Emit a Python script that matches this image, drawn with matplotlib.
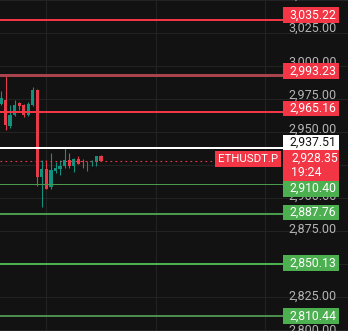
import matplotlib
matplotlib.use("Agg")
import matplotlib.pyplot as plt
from matplotlib.patches import Rectangle

# === data ===
opens = [2970.9, 2974.6, 2954.5, 2962.7, 2971.6, 2970.1, 2962.7, 2970.1, 2982.1, 2915.7, 2921.6, 2908.2,
         2920.1, 2921.6, 2923.9, 2929.1, 2923.9, 2929.9, 2928.4, 2926.9, 2927.0, 2926.9, 2932.1]
highs = [2981.3, 2992.5, 2970.1, 2974.6, 2973.1, 2970.9, 2973.1, 2984.3, 2982.8, 2929.1, 2929.1, 2934.3,
         2926.9, 2929.1, 2938.1, 2934.3, 2930.6, 2932.1, 2929.9, 2928.4, 2929.1, 2932.1, 2932.8]
lows = [2970.1, 2951.5, 2953.0, 2961.9, 2966.4, 2961.2, 2961.9, 2969.8, 2909.0, 2893.3, 2906.5, 2906.5,
        2918.7, 2917.2, 2923.1, 2922.4, 2919.4, 2925.4, 2922.4, 2920.1, 2923.9, 2923.9, 2928.0]
closes = [2975.4, 2955.2, 2962.7, 2970.1, 2969.4, 2962.7, 2970.9, 2982.1, 2915.7, 2921.6, 2906.7, 2920.9,
          2922.4, 2924.6, 2929.1, 2923.9, 2929.9, 2926.1, 2926.9, 2927.6, 2928.0, 2932.1, 2928.35]

resistance = [3035.22, 2993.23, 2965.16]
support = [2910.40, 2887.76, 2850.13, 2810.44]
marker_level = 2937.51
last_price = 2928.35
countdown = "19:24"
symbol = "ETHUSDT.P"
price_ticks = [3050, 3025, 3000, 2975, 2950, 2925, 2900, 2875, 2850, 2825, 2800]

# === style ===
W, H = 348, 331
BG = "#121212"
GRID = "#232323"
UP = "#12917f"
DOWN = "#e83a48"
RED = "#f23645"
GREEN = "#4caf50"
res_colors = ["#f23645", "#a9444d", "#f23645"]
res_widths = [2.0, 3.0, 2.0]
sup_colors = ["#4a9a4e", "#4a9a4e", "#4caf50", "#4a8c4c"]
sup_widths = [1.0, 2.0, 2.0, 2.0]

plt.rcParams["font.family"] = ["Roboto", "DejaVu Sans"]

fig = plt.figure(figsize=(W / 100, H / 100), dpi=100, facecolor=BG)
ax = fig.add_axes([0, 0, 1, 1], facecolor=BG)

ymin, ymax = 2799.25, 3046.27
step = 4.545  # px per bar
ax.set_xlim(-1 / step, (W - 1) / step)
ax.set_ylim(ymin, ymax)


def py(p):
    # price -> pixel row from top
    return (ymax - p) / (ymax - ymin) * H


def fx(x):
    return x / W


def fy(y):
    return 1 - y / H


# grid
ax.set_yticks(price_ticks)
ax.set_xticks([10, 34, 58])
ax.grid(True, color=GRID, lw=0.8)
ax.tick_params(length=0, labelleft=False, labelbottom=False)
for s in ax.spines.values():
    s.set_visible(False)
ax.set_axisbelow(True)

# candles
for i in range(len(opens)):
    c = UP if closes[i] >= opens[i] else DOWN
    ax.vlines(i, lows[i], highs[i], color=c, lw=0.8, zorder=3)
    lo, hi = min(opens[i], closes[i]), max(opens[i], closes[i])
    ax.bar(i, max(hi - lo, 0.6), bottom=lo, width=0.7, color=c, lw=0, zorder=4)

line_end = 282 / W

# level lines
for lvl, c, w in zip(resistance, res_colors, res_widths):
    ax.axhline(lvl, xmin=0, xmax=line_end, color=c, lw=w * 0.72, zorder=5)
for lvl, c, w in zip(support, sup_colors, sup_widths):
    ax.axhline(lvl, xmin=0, xmax=line_end, color=c, lw=w * 0.72, zorder=5)
ax.axhline(marker_level, xmin=0, xmax=line_end, color="white", lw=2 * 0.72, zorder=5)
ax.axhline(last_price, xmin=0, xmax=215 / W, color=RED, lw=0.8, ls=(0, (1.5, 3)), zorder=5)

# price scale labels (drawn under the boxes)
for t in price_ticks:
    ax.text(fx(337), fy(py(t)), f"{t:,.2f}", transform=ax.transAxes, ha="right", va="center",
            fontsize=9, color="#b4b4b4", zorder=6, clip_on=False)

# label boxes, pushed apart like the price scale does
box_h = 15.5
cur_top = py(last_price) - 8
cur_bot = cur_top + 31
boxes = []
above = [(marker_level, "white", "#131313")] + [(l, RED, "white") for l in resistance]
above.sort(key=lambda b: -py(b[0]))  # nearest to current first
limit = cur_top
for lvl, bg, fg in above:
    top = min(py(lvl) - box_h / 2, limit - box_h)
    boxes.append((top, lvl, bg, fg))
    limit = top
below = sorted([(l, GREEN, "white") for l in support], key=lambda b: py(b[0]))
limit = cur_bot
for lvl, bg, fg in below:
    top = max(py(lvl) - box_h / 2, limit)
    boxes.append((top, lvl, bg, fg))
    limit = top + box_h


def box(x0, x1, top, bottom, color):
    ax.add_patch(Rectangle((fx(x0), fy(bottom)), fx(x1 - x0), (bottom - top) / H,
                           transform=ax.transAxes, facecolor=color, lw=0, zorder=8, clip_on=False))


for top, lvl, bg, fg in boxes:
    box(283, 339, top, top + box_h, bg)
    ax.text(fx(336), fy(top + box_h / 2), f"{lvl:,.2f}", transform=ax.transAxes, ha="right",
            va="center", fontsize=8.8, color=fg, zorder=9, clip_on=False)

# current price box with countdown
box(283, 339, cur_top, cur_bot, RED)
ax.text(fx(291), fy(cur_top + 8), f"{last_price:,.2f}", transform=ax.transAxes, ha="left",
        va="center", fontsize=8.8, color="white", zorder=9, clip_on=False)
ax.text(fx(291), fy(cur_top + 22), countdown, transform=ax.transAxes, ha="left",
        va="center", fontsize=8.8, color="white", zorder=9, clip_on=False)

# symbol tag
box(215, 281, cur_top + 0.5, cur_top + 16.5, RED)
ax.text(fx(248), fy(cur_top + 8.5), symbol, transform=ax.transAxes, ha="center",
        va="center", fontsize=8.2, color="white", zorder=9, clip_on=False)

fig.savefig("out.png", dpi=100, facecolor=BG)
